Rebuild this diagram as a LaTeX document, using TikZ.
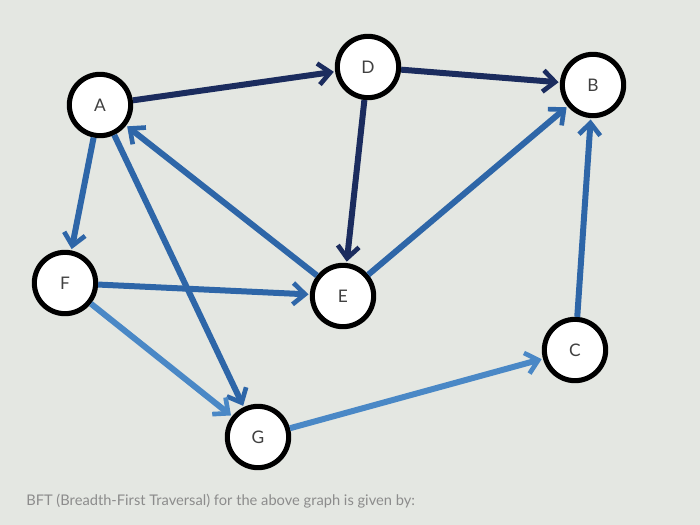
\documentclass[tikz,border=0pt]{standalone}
\usepackage{fontspec}
\setmainfont{Lato}
\usetikzlibrary{arrows.meta}
\definecolor{navy}{HTML}{1B2C5E}
\definecolor{mblue}{HTML}{2E66A8}
\definecolor{lblue}{HTML}{4A88C6}
\definecolor{bg}{HTML}{E4E7E2}
\tikzset{
  vert/.style={circle,draw=black,line width=3.8pt,fill=white,minimum size=46pt,inner sep=0pt,font=\fontsize{13}{15}\selectfont,text=black!75},
  edge/.style={line width=4.5pt,-{Straight Barb[length=9pt,width=16pt,line width=3.5pt]},shorten >=1pt},
}
\begin{document}
\begin{tikzpicture}[x=0.75pt,y=-0.75pt]
\fill[bg] (0,0) rectangle (700,525);
\useasboundingbox (0,0) rectangle (700,525);
\node[vert] (A) at (100,105) {A};
\node[vert] (D) at (368,67) {D};
\node[vert] (B) at (593,85) {B};
\node[vert] (F) at (65,283) {F};
\node[vert] (E) at (343,296) {E};
\node[vert] (C) at (575,350) {C};
\node[vert] (G) at (258,437) {G};
\begin{scope}[on background layer/.try]
\end{scope}
\draw[edge,navy] (A) -- (D);
\draw[edge,navy] (D) -- (B);
\draw[edge,navy] (D) -- (E);
\draw[edge,mblue] (A) -- (F);
\draw[edge,mblue] (E) -- (A);
\draw[edge,mblue] (E) -- (B);
\draw[edge,mblue] (A) -- (G);
\draw[edge,mblue] (F) -- (E);
\draw[edge,lblue] (F) -- (G);
\draw[edge,lblue] (G) -- (C);
\draw[edge,mblue] (C) -- (B);
\node[anchor=west,text=black!45,font=\fontsize{11}{13}\selectfont,inner sep=0pt] (cap) at (26,501) {BFT (Breadth-First Traversal) for the above graph is given by:};
\end{tikzpicture}
\end{document}
